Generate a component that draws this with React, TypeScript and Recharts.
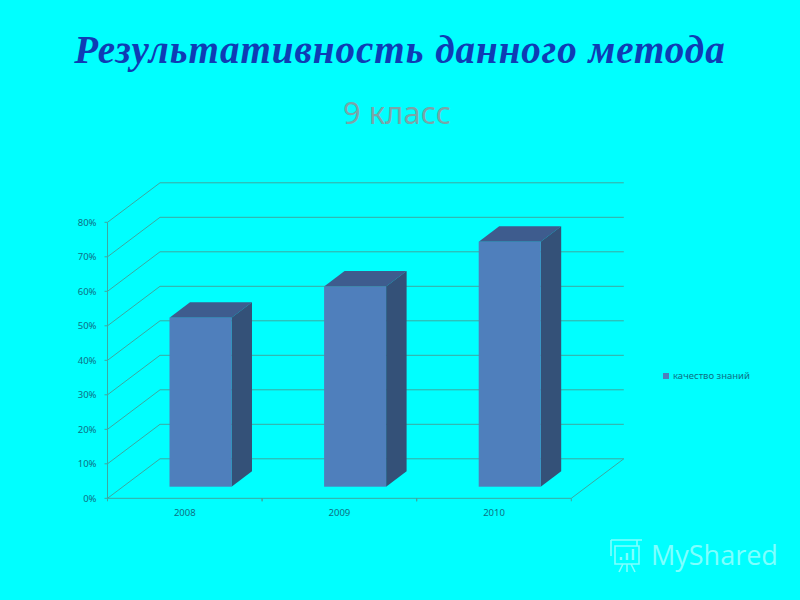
import React from 'react';
import { BarChart, Bar, XAxis, YAxis, CartesianGrid, Legend } from 'recharts';

const categories = ['2008', '2009', '2010'];
const quality = [49, 58, 71];
const yTicks = [0, 10, 20, 30, 40, 50, 60, 70, 80];
const seriesName = 'качество знаний';

const data = categories.map((c, i) => ({ year: c, value: quality[i] }));

const BG = '#00FFFF';
const GRID = '#3DA8A0';
const TICK = '#0F7085';
const WALL_DX = 52.5;
const WALL_DY = -39.5;
const BAR_SHIFT_X = 16;
const BAR_SHIFT_Y = -11.6;
const DEPTH_X = 20.5;
const DEPTH_Y = -15.5;
const BAND = 154.6;
const FONT = '"Noto Sans", sans-serif';

function GridLine(props: any) {
  const { x1, x2, y1 } = props;
  const isFloor = Math.abs(y1 - 498.3) < 1;
  return (
    <g>
      <path
        d={`M${x1},${y1}L${x1 + WALL_DX},${y1 + WALL_DY}L${x2 + WALL_DX},${y1 + WALL_DY}`}
        fill="none"
        stroke={GRID}
        strokeWidth={1}
      />
      {isFloor && (
        <path d={`M${x2},${y1}L${x2 + WALL_DX},${y1 + WALL_DY}`} fill="none" stroke={GRID} strokeWidth={1} />
      )}
    </g>
  );
}

function Box3D(props: any) {
  const { x, y, width, height } = props;
  const l = x + BAR_SHIFT_X;
  const t = y + BAR_SHIFT_Y;
  const r = l + width;
  const b = t + height;
  return (
    <g>
      <polygon
        points={`${l},${t} ${l + DEPTH_X},${t + DEPTH_Y} ${r + DEPTH_X},${t + DEPTH_Y} ${r},${t}`}
        fill="#3E5C8E"
      />
      <polygon
        points={`${r},${t} ${r + DEPTH_X},${t + DEPTH_Y} ${r + DEPTH_X},${b + DEPTH_Y} ${r},${b}`}
        fill="#345178"
      />
      <rect x={l} y={t} width={width} height={height} fill="#4F7FBC" />
    </g>
  );
}

function XTick(props: any) {
  const { x, y, payload } = props;
  return (
    <g>
      <line x1={x - BAND / 2} x2={x - BAND / 2} y1={y - 8} y2={y - 5} stroke={GRID} />
      <line x1={x + BAND / 2} x2={x + BAND / 2} y1={y - 8} y2={y - 5} stroke={GRID} />
      <text x={x} y={y + 10} textAnchor="middle" fontSize={9.5} fontFamily={FONT} fill={TICK}>
        {payload.value}
      </text>
    </g>
  );
}

export default function App() {
  return (
    <div style={{ position: 'fixed', left: 0, top: 0, width: 800, height: 600, background: BG, overflow: 'hidden' }}>
      <div
        style={{
          position: 'absolute',
          left: 0,
          width: 800,
          top: 29,
          textAlign: 'center',
          fontFamily: '"Liberation Serif", serif',
          fontWeight: 'bold',
          fontStyle: 'italic',
          fontSize: 39,
          letterSpacing: 1,
          lineHeight: '42px',
          color: '#0F3CB4',
          whiteSpace: 'nowrap',
        }}
      >
        Результативность данного метода
      </div>
      <div
        style={{
          position: 'absolute',
          left: 0,
          width: 794,
          top: 92,
          textAlign: 'center',
          fontFamily: FONT,
          fontSize: 31,
          lineHeight: '40px',
          color: '#7AA5A8',
        }}
      >
        9 класс
      </div>
      <div style={{ position: 'absolute', left: 0, top: 0 }}>
        <BarChart
          width={800}
          height={600}
          data={data}
          margin={{ top: 222.3, left: 106.5, right: 228.7, bottom: 71.7 }}
        >
          <CartesianGrid vertical={false} horizontal={(p: any) => <GridLine {...p} />} />
          <XAxis
            dataKey="year"
            height={30}
            axisLine={{ stroke: GRID }}
            tickLine={false}
            tick={<XTick />}
            interval={0}
          />
          <YAxis
            width={1}
            domain={[0, 80]}
            ticks={yTicks}
            tickFormatter={(v: number) => `${v}%`}
            axisLine={{ stroke: GRID }}
            tickLine={{ stroke: GRID }}
            tickSize={3}
            tickMargin={8}
            tick={{ fontSize: 9.5, fontFamily: FONT, fill: TICK }}
            interval={0}
          />
          <Bar dataKey="value" name={seriesName} fill="#4F7FBC" barSize={62} shape={<Box3D />} isAnimationActive={false} />
          <Legend
            layout="vertical"
            align="center"
            verticalAlign="middle"
            iconType="square"
            iconSize={6}
            wrapperStyle={{ left: 663, top: 369, width: 130, fontFamily: FONT, fontSize: 9.5 }}
            formatter={(v: string) => <span style={{ color: TICK }}>{v}</span>}
          />
        </BarChart>
      </div>
      <svg width={800} height={600} style={{ position: 'absolute', left: 0, top: 0 }}>
        <g fill="none" stroke="#FFFFFF" strokeOpacity={0.5} strokeWidth={1.6}>
          <path d="M611,540H642M611,540V556M615,546H639V564H615ZM637,540V546M623,564L619,572M627,564V572M631,564L635,572" />
          <path d="M621,560V557M627,560V553M633,560V549" strokeWidth={2.4} />
        </g>
        <text x={651} y={565} fontFamily='"Open Sans", sans-serif' fontSize={27} fill="#FFFFFF" fillOpacity={0.5}>
          MyShared
        </text>
      </svg>
    </div>
  );
}
